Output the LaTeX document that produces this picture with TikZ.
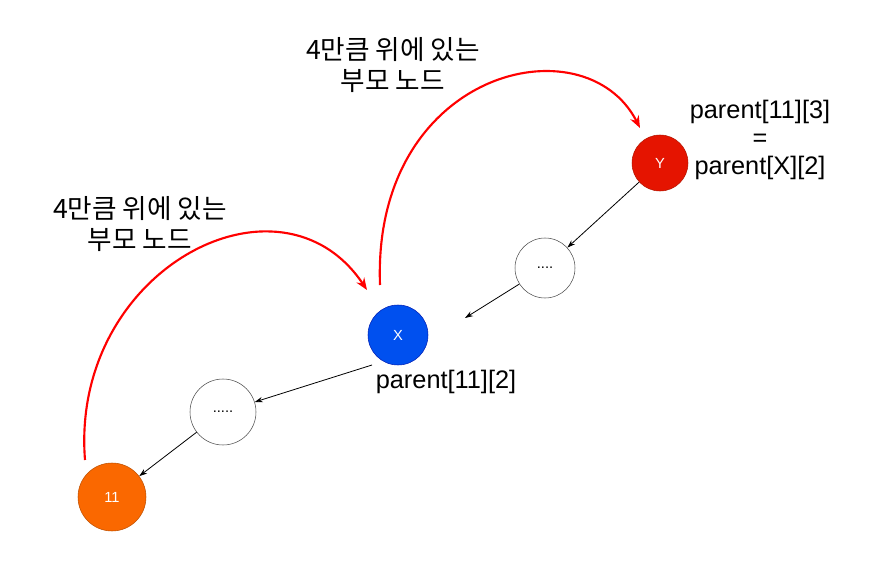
\documentclass[tikz,border=0pt]{standalone}
\usepackage{fontspec}
\setmainfont{Liberation Sans}
\newfontfamily\kr{Noto Sans CJK KR}
\usetikzlibrary{arrows.meta}
\begin{document}
\begin{tikzpicture}[x=0.75pt,y=-0.75pt,
  circ/.style={circle,draw=black!70,minimum size=#1*0.75pt,inner sep=0pt,font=\fontsize{11}{12}\selectfont},
  lbl/.style={align=center,inner sep=0pt},
  edge/.style={-{Stealth[length=6pt,width=4pt]},line width=0.6pt},
  hop/.style={-{Stealth[length=9pt,width=7pt]},red,line width=1.6pt}]
\useasboundingbox (0,0) rectangle (889,567);
\node[circ=56,fill={rgb,255:red,229;green,20;blue,0},draw={rgb,255:red,180;green,20;blue,0},text=white] (y) at (660,163) {Y};
\node[circ=60,fill=white] (d1) at (545,268) {....};
\node[circ=60,fill={rgb,255:red,0;green,80;blue,239},draw={rgb,255:red,0;green,30;blue,180},text=white] (x) at (398,335) {X};
\node[circ=66,fill=white] (d2) at (223,412) {.....};
\node[circ=68,fill={rgb,255:red,250;green,104;blue,0},draw={rgb,255:red,190;green,80;blue,0},text=white] (n11) at (112,497) {11};
\coordinate (xe) at (465,318);
\coordinate (xs) at (372,365);
\draw[edge] (y) -- (d1);
\draw[edge] (d1) -- (xe);
\draw[edge] (xs) -- (d2);
\draw[edge] (d2) -- (n11);
\coordinate (c1s) at (85,460);
\coordinate (c1e) at (367,290);
\coordinate (c2s) at (380,285);
\coordinate (c2e) at (640,128);
\draw[hop] (c1s) .. controls (70,270) and (280,160) .. (c1e);
\draw[hop] (c2s) .. controls (372,70) and (585,20) .. (c2e);
\node[lbl,font=\kr\fontsize{20}{23}\selectfont] (t1) at (393,65) {4만큼 위에 있는\\부모 노드};
\node[lbl,font=\kr\fontsize{20}{23}\selectfont] (t2) at (140,224) {4만큼 위에 있는\\부모 노드};
\node[lbl,font=\fontsize{19}{21}\selectfont] (t3) at (760,140) {parent[11][3]\\=\\parent[X][2]};
\node[lbl,font=\fontsize{19}{21}\selectfont] (t4) at (446,382) {parent[11][2]};
\end{tikzpicture}
\end{document}
